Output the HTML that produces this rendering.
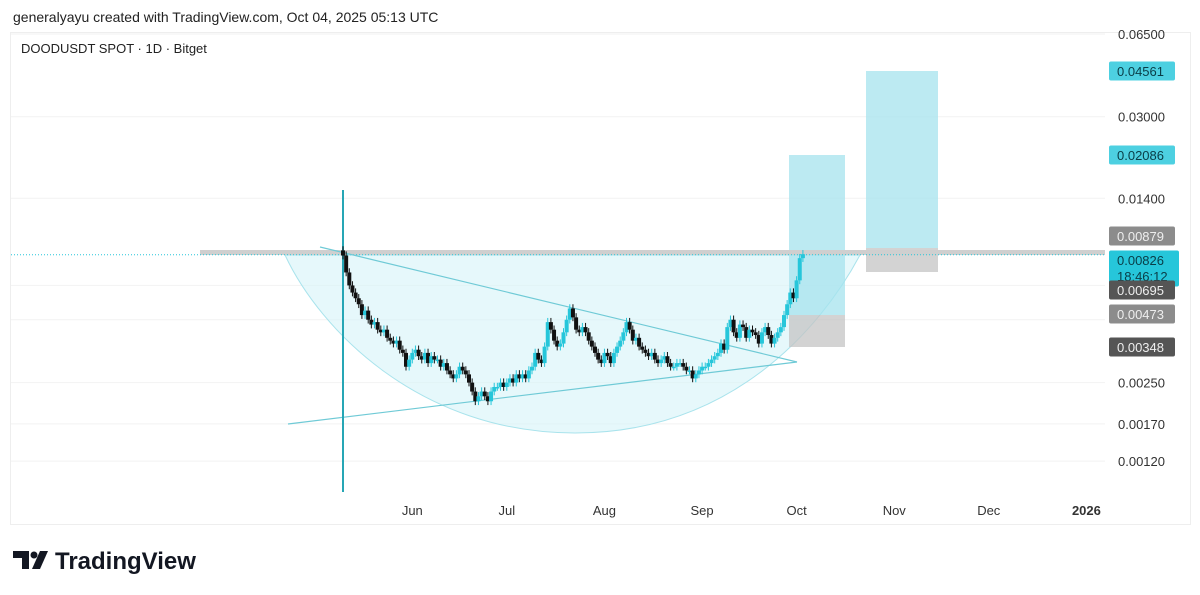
<!DOCTYPE html>
<html><head><meta charset="utf-8"><style>
body{margin:0;background:#fff;font-family:"Liberation Sans",sans-serif;}
#wrap{position:relative;width:1200px;height:595px;overflow:hidden;}
</style></head><body>
<div id="wrap">
<svg id="chart" width="1200" height="595"></svg>
</div>
<script>
const closes=[0.0082,0.0070,0.0062,0.0058,0.0055,0.0052,0.0047,0.0049,0.0045,0.0043,
0.0044,0.0041,0.0040,0.0041,0.0038,0.0037,0.0036,0.0037,0.0034,0.0033,
0.0029,0.0031,0.0033,0.0034,0.0032,0.0031,0.0033,0.0030,0.0032,0.0031,
0.0031,0.0029,0.0030,0.0028,0.0027,0.0026,0.0027,0.0029,0.0028,0.0027,
0.0025,0.0023,0.0021,0.0022,0.0023,0.0022,0.0021,0.0023,0.0024,0.0024,
0.0025,0.0024,0.0025,0.0026,0.0025,0.0027,0.0026,0.0027,0.0026,0.0028,
0.0029,0.0033,0.0031,0.0030,0.0035,0.0044,0.0041,0.0037,0.0035,0.0036,
0.0040,0.0045,0.0050,0.0046,0.0041,0.0040,0.0042,0.0040,0.0037,0.0035,
0.0033,0.0031,0.0030,0.0033,0.0032,0.0030,0.0033,0.0035,0.0037,0.0040,
0.0044,0.0041,0.0037,0.0038,0.0035,0.0034,0.0033,0.0032,0.0033,0.0031,
0.0030,0.0031,0.0032,0.0030,0.0029,0.0029,0.0030,0.0030,0.0029,0.0028,
0.0028,0.0026,0.0027,0.0028,0.0029,0.0029,0.0030,0.0031,0.0032,0.0033,
0.0036,0.0034,0.0042,0.0045,0.0040,0.0038,0.0043,0.0042,0.0038,0.0041,
0.0040,0.0039,0.0036,0.0040,0.0042,0.0039,0.0036,0.0038,0.0040,0.0042,
0.0047,0.0052,0.0058,0.0055,0.0065,0.0080,0.0083];
const yTicks=[0.065,0.03,0.014,0.0025,0.0017,0.0012];
const yTickLabels=["0.06500","0.03000","0.01400","0.00250","0.00170","0.00120"];
const xLabels=["Jun","Jul","Aug","Sep","Oct","Nov","Dec","2026"];
const xLabelDays=[22,52,83,114,144,175,205,236];
const priceTags=[0.04561,0.02086,0.00879,0.00826,0.00695,0.00473,0.00348];
const tagColors=["#4dd0e1","#4dd0e1","#8c8c8c","#26c6da","#555","#8c8c8c","#555"];

const NS="http://www.w3.org/2000/svg";
const svg=document.getElementById('chart');
function el(t,a,p){const e=document.createElementNS(NS,t);for(const k in a)e.setAttribute(k,a[k]);(p||svg).appendChild(e);return e;}
function y(v){return 34+107*Math.log(0.065/v);}
function x(i){return 343+3.15*i;}

let t=el('text',{x:13,y:22,'font-size':14,fill:'#222'});t.textContent='generalyayu created with TradingView.com, Oct 04, 2025 05:13 UTC';


let fr=el('rect',{x:10.5,y:32.5,width:1180,height:492,fill:'none',stroke:'#eee'});


t=el('text',{x:21,y:53,'font-size':13,fill:'#222'});t.textContent='DOODUSDT SPOT · 1D · Bitget';



yTicks.forEach((v,i)=>{
 const g=el('line',{x1:11,x2:1105,y1:y(v),y2:y(v),stroke:'#f2f2f2'});
 
 
 const l=el('text',{x:1118,y:y(v)+5,'font-size':13,fill:'#333'});l.textContent=yTickLabels[i];
 
 
});
[0.0045,0.0062].forEach(v=>{el('line',{x1:11,x2:1105,y1:y(v),y2:y(v),stroke:'#f2f2f2'});});
xLabels.forEach((s,i)=>{
 const l=el('text',{x:x(xLabelDays[i]),y:515,'font-size':13,fill:'#333','text-anchor':'middle','font-weight':s==='2026'?'bold':'normal'});l.textContent=s;
 
 
});

let cup=el('path',{d:'M285,255 C320,330 420,433 575,433 C730,433 820,330 860,255 Z',fill:'#d6f3f8','fill-opacity':0.6,stroke:'#a9e3ec'});


[[789,155,845,315,'#a6e3ee'],[789,315,845,347,'#c4c4c4'],[866,71,938,248,'#a6e3ee'],[866,248,938,272,'#c4c4c4']].forEach(b=>{
 const r=el('rect',{x:b[0],y:b[1],width:b[2]-b[0],height:b[3]-b[1],fill:b[4],'fill-opacity':0.75});
 
 
});
let band=el('rect',{x:200,y:250,width:905,height:5,fill:'#cfcfcf'});


el('line',{x1:11,x2:1105,y1:y(0.00826),y2:y(0.00826),stroke:'#26c6da','stroke-dasharray':'1 2'});
let tl=el('line',{x1:320,y1:247,x2:797,y2:362,stroke:'#6fcad6','stroke-width':1.2});


tl=el('line',{x1:288,y1:424,x2:797,y2:362,stroke:'#6fcad6','stroke-width':1.2});


let sp=el('line',{x1:343,x2:343,y1:190,y2:492,stroke:'#26a6b5','stroke-width':2});



closes.forEach((c,i)=>{
 const o=i?closes[i-1]:0.0086;
 const up=c>=o;
 const col=up?'#26c6da':'#111';
 const hi=Math.max(o,c)*1.04, lo=Math.min(o,c)*0.965;
 const w=el('line',{x1:x(i),x2:x(i),y1:y(hi),y2:y(lo),stroke:col,'stroke-width':1});
 
 
 const top=y(Math.max(o,c)),bot=y(Math.min(o,c));
 const b=el('rect',{x:x(i)-2,y:top,width:4,height:Math.max(1.5,bot-top),fill:col});
 
 
});

priceTags.forEach((v,i)=>{
 let yy=[71,155,236,260,290,314,347][i];
 const h=i===3?36:19;
 const r=el('rect',{x:1109,y:yy-9.5,width:i===3?70:66,height:h,rx:2,fill:tagColors[i]});
 
 
 const tx=el('text',{x:1117,y:yy+5,'font-size':13,fill:(i<2||i===3)?'#0a3d47':'#eee'});tx.textContent=v.toFixed(5);
 
 
 if(i===3){const t2=el('text',{x:1117,y:yy+21,'font-size':13,fill:'#0a3d47'});t2.textContent='18:46:12';
 
 }
});

const lg=el('g',{});


el('path',{d:'M13,551 h16 v18 h-7 v-11 h-9 z',fill:'#131722'},lg);
el('circle',{cx:34,cy:555,r:3.5,fill:'#131722'},lg);
el('path',{d:'M40,551 h8 l-8,18 h-8 z',fill:'#131722'},lg);
t=el('text',{x:55,y:569,'font-size':24,'font-weight':'bold',fill:'#131722'},lg);t.textContent='TradingView';
</script>
</body></html>
